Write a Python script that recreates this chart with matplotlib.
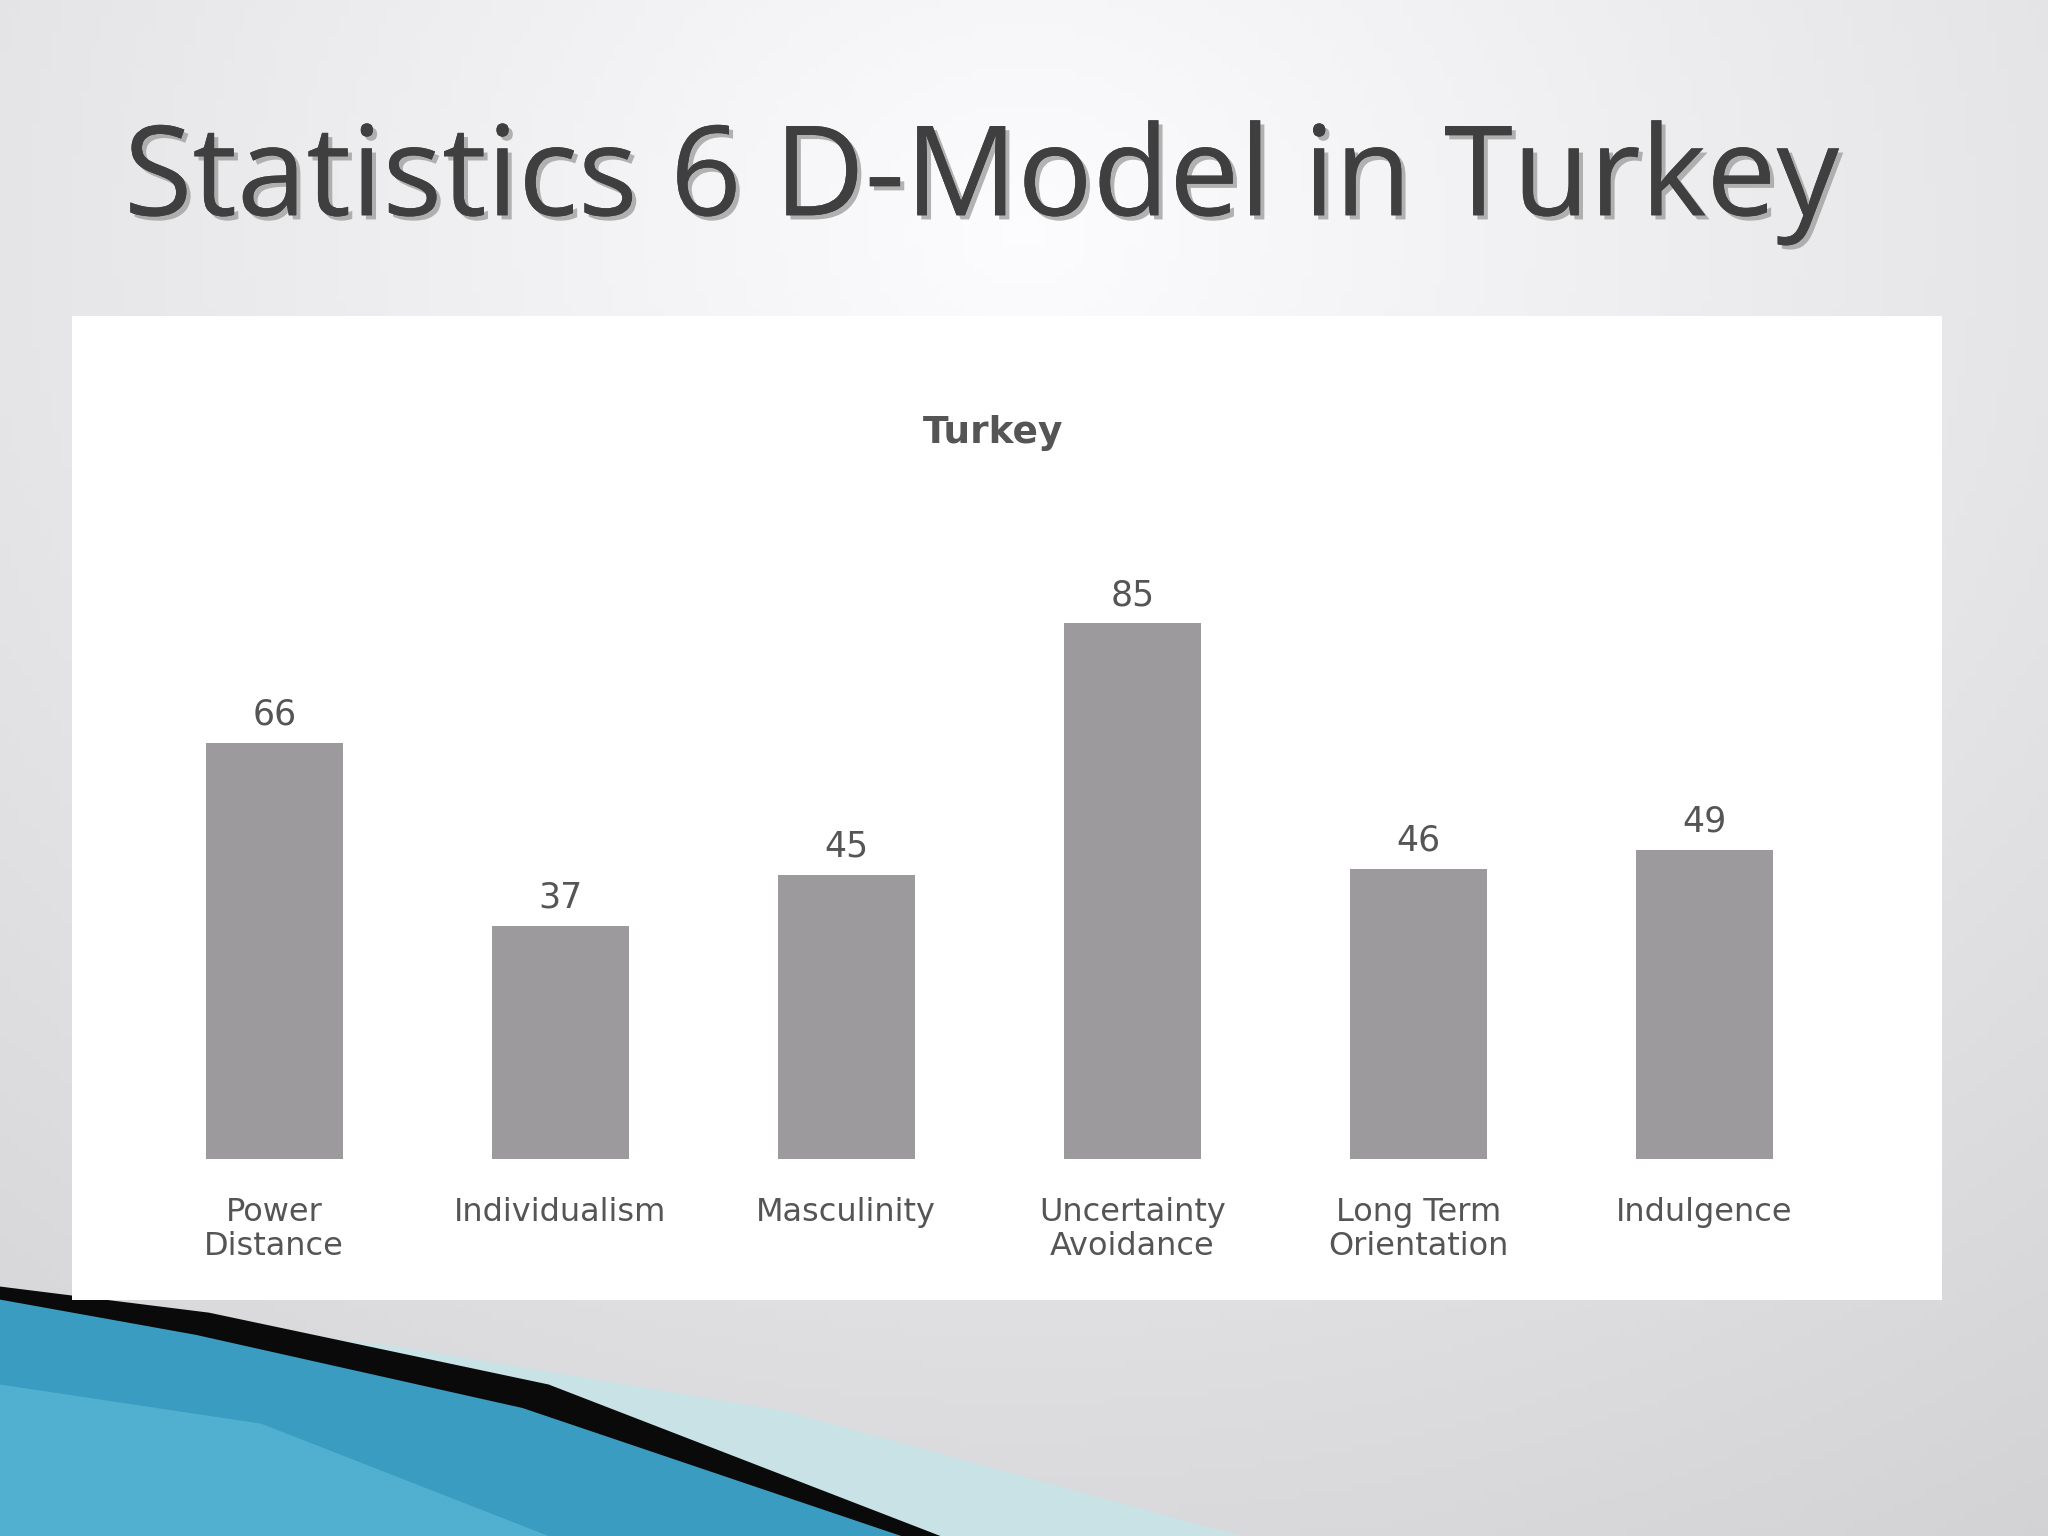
import matplotlib
matplotlib.use("Agg")
import matplotlib.pyplot as plt
import matplotlib.patheffects as pe
import numpy as np
from matplotlib.patches import Polygon, Rectangle

categories = ["Power\nDistance", "Individualism", "Masculinity", "Uncertainty\nAvoidance", "Long Term\nOrientation", "Indulgence"]
values = [66, 37, 45, 85, 46, 49]

W, H = 1568, 1176
fig = plt.figure(figsize=(20.48, 15.36), dpi=100)

# background gradient
bg = fig.add_axes([0, 0, 1, 1])
yy, xx = np.mgrid[0:1:200j, 0:1:200j]
d = np.sqrt((xx - 0.5) ** 2 * 1.0 + (yy - 0.15) ** 2 * 0.8)
g = 0.99 - 0.18 * d
img = np.dstack([g, g, g + 0.01]).clip(0, 1)
bg.imshow(img, extent=[0, W, H, 0], aspect="auto")
bg.set_xlim(0, W); bg.set_ylim(H, 0); bg.axis("off")

# swoosh
bg.add_patch(Polygon([(0, 1000), (300, 1030), (600, 1080), (950, 1176), (0, 1176)], closed=True, color="#c9e2e6", lw=0))
bg.add_patch(Polygon([(0, 985), (160, 1005), (420, 1060), (720, 1176), (0, 1176)], closed=True, color="#0a0a0a", lw=0))
bg.add_patch(Polygon([(0, 995), (150, 1022), (400, 1078), (690, 1176), (0, 1176)], closed=True, color="#3a9cc0", lw=0))
bg.add_patch(Polygon([(0, 1060), (200, 1090), (420, 1176), (0, 1176)], closed=True, color="#5bb8d8", lw=0, alpha=0.7))

# white panel
bg.add_patch(Rectangle((55, 242), 1432, 753, color="white", lw=0))

# slide title with shadow
fig.text(0.0605, 0.881, "Statistics 6 D-Model in Turkey", fontsize=90, color="#3f3f3f",
         ha="left", va="center", family="Open Sans",
         path_effects=[pe.withSimplePatchShadow(offset=(3, -3), shadow_rgbFace="#a0a0a0", alpha=0.8), pe.Normal()])

# chart
ax = fig.add_axes([100.5 / W, 1 - 887 / H, 1314 / W, 482 / H])
x = np.arange(len(values))
ax.bar(x, values, width=0.48, color="#9c9a9d")
for xi, v in zip(x, values):
    ax.text(xi, v + 1.8, str(v), ha="center", va="bottom", fontsize=25, color="#555555")
ax.set_xlim(-0.5, len(values) - 0.5)
ax.set_ylim(0, 100)
ax.set_xticks(x)
ax.set_xticklabels(categories, fontsize=23, color="#555555", linespacing=1.1)
ax.tick_params(axis="x", length=0, pad=28)
ax.set_yticks([])
for s in ax.spines.values():
    s.set_visible(False)
ax.patch.set_alpha(0)

fig.text(0.485, 0.718, "Turkey", fontsize=27, fontweight="bold", color="#555555", ha="center", va="center")

fig.savefig("out.png", dpi=100)
